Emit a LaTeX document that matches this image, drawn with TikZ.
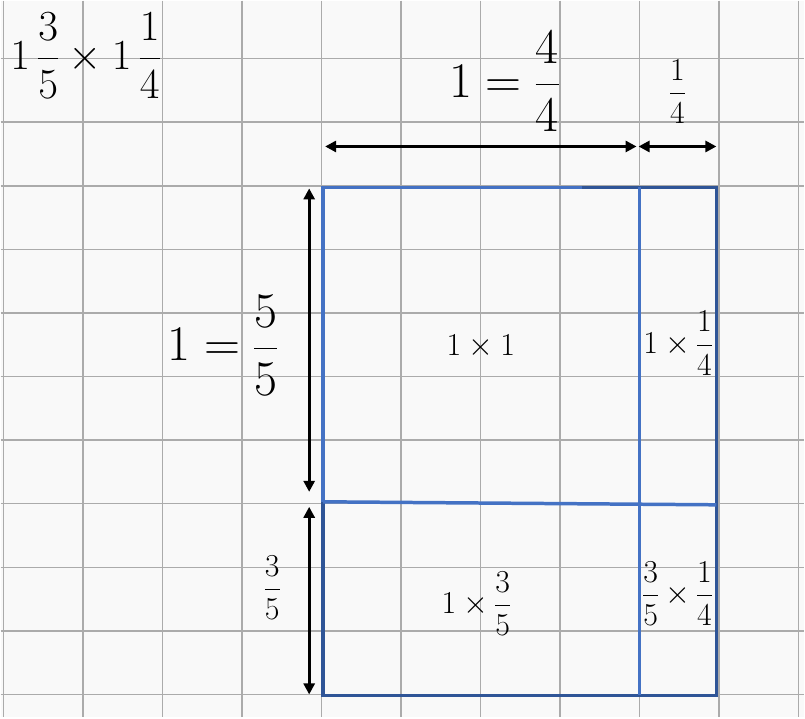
\documentclass[tikz,border=0pt]{standalone}
\usepackage{fix-cm}
\usepackage{amsmath}
\usepackage{tikz}
\usetikzlibrary{arrows.meta}

\definecolor{paper}{HTML}{F9F9F9}
\definecolor{gridgray}{HTML}{ABABAB}
\definecolor{lightblue}{HTML}{4472C4}
\definecolor{darkblue}{HTML}{2F5597}

\tikzset{
  gridline/.style={gridgray,line width=1.5pt},
  edge/.style={line width=3.5pt},
  dimarrow/.style={line width=3pt,{Triangle[length=11pt,width=11pt]}-{Triangle[length=11pt,width=11pt]}},
  biglabel/.style={font={\fontsize{50}{60}\selectfont\nulldelimiterspace 0pt},inner sep=0pt},
  smalllabel/.style={font={\fontsize{32}{38}\selectfont\nulldelimiterspace 0pt},inner sep=0pt},
}

\begin{document}
\begin{tikzpicture}[x=1pt,y=-1pt]
    \fill[paper] (0,0) rectangle (805,718);
    \foreach \i in {0,...,10} {
      \draw[gridline] ({3+79.6*\i},0) -- ({3+79.6*\i},718);
      \draw[gridline] (0,{58+63.7*\i}) -- (805,{58+63.7*\i});
    }
    % corners of the rectangle
    \coordinate (tl) at (323,187);
    \coordinate (tsplit) at (582,187);
    \coordinate (tr) at (717,187);
    \coordinate (br) at (717,696);
    \coordinate (bl) at (323,696);
    \coordinate (ml) at (323,502);
    \coordinate (mr) at (717,505);
    \coordinate (ct) at (640,187);
    \coordinate (cb) at (640,696);
    \draw[edge,lightblue] (ml) -- (tl) -- (tsplit);
    \draw[edge,darkblue] (tsplit) -- (tr) -- (br) -- (bl) -- (ml);
    \draw[edge,lightblue] (ml) -- (mr);
    \draw[edge,lightblue] (ct) -- (cb);
    % dimension arrows
    \coordinate (wa) at (325,146);
    \coordinate (wb) at (637,146);
    \coordinate (wc) at (639,146);
    \coordinate (wd) at (717,146);
    \coordinate (ha) at (309,188);
    \coordinate (hb) at (309,492);
    \coordinate (hc) at (309,507);
    \coordinate (hd) at (309,695);
    \draw[dimarrow] (wa) -- (wb);
    \draw[dimarrow] (wc) -- (wd);
    \draw[dimarrow] (ha) -- (hb);
    \draw[dimarrow] (hc) -- (hd);
    % labels
    \node[font=\fontsize{43}{52}\selectfont,inner sep=0pt] (task) at (85,55) {$1\,\dfrac{3}{5}\times1\,\dfrac{1}{4}$};
    \node[biglabel] (wholew) at (504,81) {$1=\dfrac{4}{4}$};
    \node[smalllabel] (quarter) at (678,91) {$\dfrac{1}{4}$};
    \node[biglabel] (wholeh) at (222,345) {$1=\dfrac{5}{5}$};
    \node[smalllabel] (threefifths) at (272,588) {$\dfrac{3}{5}$};
    \node[smalllabel] (aa) at (481,346) {$1\times1$};
    \node[smalllabel] (ab) at (678,343) {$1\times\dfrac{1}{4}$};
    \node[smalllabel] (ba) at (476,604) {$1\times\dfrac{3}{5}$};
    \node[smalllabel] (bb) at (678,594) {$\dfrac{3}{5}\times\dfrac{1}{4}$};
\end{tikzpicture}
\end{document}
